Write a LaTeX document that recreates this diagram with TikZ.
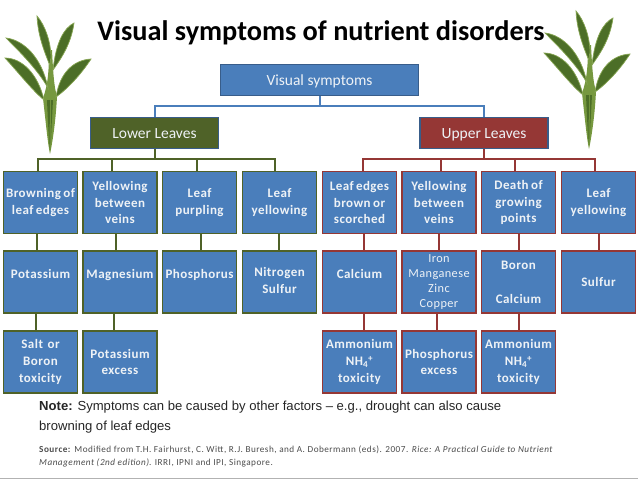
\documentclass[tikz,border=0pt]{standalone}
\usepackage{fontspec}
\usetikzlibrary{calc}
\setmainfont{Carlito}
\newfontfamily\arialf{Liberation Sans}
\newfontfamily\boxf[LetterSpace=3.5,WordSpace=0.7]{Carlito}
\newfontfamily\srcf[LetterSpace=5.3]{Carlito}
\definecolor{boxblue}{HTML}{4A7EBB}
\definecolor{boxedge}{HTML}{385D8A}
\definecolor{lowgreen}{HTML}{4F6228}
\definecolor{upred}{HTML}{953735}
\definecolor{leafdark}{HTML}{4C6E27}
\definecolor{leaflight}{HTML}{86A552}
\definecolor{stemgreen}{HTML}{76983F}
\definecolor{boxtext}{HTML}{EEF2F6}
\tikzset{
  x=1pt,y=-1pt,
  box/.style={draw=#1,line width=1.5pt,fill=boxblue,minimum width=74pt,minimum height=62pt,inner sep=0pt,text=boxtext,align=center,font=\boxf\fontsize{13}{16.8}\selectfont\bfseries},
  lowbox/.style={box=lowgreen},
  upbox/.style={box=upred},
  head/.style={draw=#1,line width=1.3pt,minimum height=31pt,inner sep=0pt,text=boxtext,text height=14pt,text depth=3pt,font=\fontsize{15.5}{18}\selectfont},
  lowlink/.style={draw=lowgreen,line width=2pt},
  uplink/.style={draw=upred,line width=2pt},
  toplink/.style={draw=boxblue,line width=2pt},
  leafshape/.style={fill=leafdark,draw=leaflight,line width=.7pt},
  stemshape/.style={fill=stemgreen,draw=none},
  plant/.pic={
    \path[stemshape] (43,98) .. controls (46,125) and (48,145) .. (50,154) .. controls (53,140) and (56,118) .. (57,96) .. controls (54,88) and (53,70) .. (52,50) -- (49,50) .. controls (49,70) and (48,85) .. (43,98) -- cycle;
    \path[fill=leafdark] (47,100) .. controls (48,125) and (49,140) .. (49.5,148) -- (50,100) -- cycle;
    \path[fill=leafdark] (53,100) .. controls (52,120) and (51,135) .. (50.5,150) -- (51,100) -- cycle;
    \path[leafshape] (37,16) .. controls (45,25) and (51,42) .. (51,58) .. controls (50,60) and (50,65) .. (50,66) .. controls (46,55) and (38,38) .. (37,16) -- cycle;
    \path[leafshape] (74,23) .. controls (64,28) and (56,42) .. (53,70) .. controls (60,60) and (71,45) .. (74,23) -- cycle;
    \path[leafshape] (6,38) .. controls (24,40) and (42,58) .. (48,88) .. controls (38,70) and (20,52) .. (6,38) -- cycle;
    \path[leafshape] (5,58) .. controls (22,58) and (38,74) .. (44,100) .. controls (32,90) and (18,72) .. (5,58) -- cycle;
    \path[leafshape] (91,59) .. controls (74,60) and (60,72) .. (56,97) .. controls (66,90) and (80,76) .. (91,59) -- cycle;
  }
}
\begin{document}
\begin{tikzpicture}
\useasboundingbox (0,0) rectangle (638,479);
\fill[white] (0,0) rectangle (638,479);
\fill[black!30] (0,477.5) rectangle (638,479);
\pic at (0,0) {plant};
\pic at (539,-5) {plant};
\node[font=\fontsize{28.3}{32}\selectfont\bfseries,text=black,inner sep=0pt] (title) at (321,32.5) {Visual symptoms of nutrient disorders};
\node[head=boxedge,fill=boxblue,minimum width=198pt] (top) at (319.5,80) {Visual symptoms};
\node[head=boxedge,fill=lowgreen,minimum width=128pt] (lower) at (154.5,133) {Lower Leaves};
\node[head=boxedge,fill=upred,minimum width=128pt] (upper) at (484,133) {Upper Leaves};
% row 1
\node[lowbox] (a1) at (40.5,202.5) {Browning of\\leaf edges};
\node[lowbox] (a2) at (120,202.5) {Yellowing\\between\\veins};
\node[lowbox] (a3) at (199.5,202.5) {Leaf\\purpling};
\node[lowbox] (a4) at (279.5,202.5) {Leaf\\yellowing};
\node[upbox] (b1) at (359.5,202.5) {Leaf edges\\brown or\\scorched};
\node[upbox] (b2) at (439,202.5) {Yellowing\\between\\veins};
\node[upbox] (b3) at (518.5,202.5) {Death of\\growing\\points};
\node[upbox] (b4) at (598.5,202.5) {Leaf\\yellowing};
% row 2
\node[lowbox,text depth=16pt] (c1) at (40.5,282) {Potassium};
\node[lowbox,text depth=16pt] (c2) at (120,282) {Magnesium};
\node[lowbox,text depth=16pt] (c3) at (199.5,282) {Phosphorus};
\node[lowbox] (c4) at (279.5,282) {\raisebox{7pt}{\begin{tabular}{@{}c@{}}Nitrogen\\Sulfur\end{tabular}}};
\node[upbox,text depth=16pt] (d1) at (359.5,282) {Calcium};
\node[upbox,font=\boxf\fontsize{12.3}{14.7}\selectfont] (d2) at (439,282) {Iron\\Manganese\\Zinc\\Copper};
\node[upbox,font=\boxf\fontsize{13}{17}\selectfont\bfseries] (d3) at (518.5,282) {Boron\\[17pt]Calcium};
\node[upbox] (d4) at (598.5,282) {Sulfur};
% row 3
\node[lowbox] (e1) at (40.5,362) {Salt\, or\\Boron\\toxicity};
\node[lowbox] (e2) at (120,362) {Potassium\\excess};
\node[upbox] (f1) at (359.5,362) {Ammonium\\NH\textsubscript{4}\textsuperscript{+}\\toxicity};
\node[upbox] (f2) at (439,362) {Phosphorus\\excess};
\node[upbox] (f3) at (518.5,362) {Ammonium\\NH\textsubscript{4}\textsuperscript{+}\\toxicity};
% connectors
\coordinate (topbus) at (319.5,106);
\draw[toplink] (top.south) -- (topbus);
\draw[toplink] (lower.north) |- (topbus) -| (upper.north);
\coordinate (lowbus) at (154.5,159);
\coordinate (upbus) at (484,159);
\draw[lowlink] (lower.south) -- (lowbus);
\draw[uplink] (upper.south) -- (upbus);
\foreach \n/\d in {a1/-2.5,a2/-8,a3/-2.5,a4/-4.5}
  \draw[lowlink] (lowbus) -| ($(\n.north)+(\d,0)$);
\foreach \n/\d in {b1/3.5,b2/2,b3/-3.5,b4/-3.5}
  \draw[uplink] (upbus) -| ($(\n.north)+(\d,0)$);
\foreach \p/\q/\d in {a1/c1/-3.5,a2/c2/-4,a3/c3/1,a4/c4/-.5,c1/e1/-4.5,c2/e2/-6}
  \draw[lowlink] ($(\p.south)+(\d,0)$) -- ($(\q.north)+(\d,0)$);
\foreach \p/\q/\d in {b1/d1/4.5,b2/d2/0,b3/d3/0,b4/d4/0,d1/f1/4.5,d2/f2/-2,d3/f3/0}
  \draw[uplink] ($(\p.south)+(\d,0)$) -- ($(\q.north)+(\d,0)$);
% notes
\node[anchor=north west,inner sep=0pt,align=left,text=black!85,font=\arialf\fontsize{13.1}{19.5}\selectfont] (note) at (39,401) {\textbf{Note:} Symptoms can be caused by other factors – e.g., drought can also cause\\browning of leaf edges};
\node[anchor=north west,inner sep=0pt,align=left,text=black!70,font=\srcf\fontsize{9.2}{12.6}\selectfont] (src) at (39,446) {\textbf{Source:} Modified from T.H. Fairhurst, C. Witt, R.J. Buresh, and A. Dobermann (eds). 2007. \textit{Rice: A Practical Guide to Nutrient}\\\textit{Management (2nd edition)}. IRRI, IPNI and IPI, Singapore.};
\end{tikzpicture}
\end{document}
